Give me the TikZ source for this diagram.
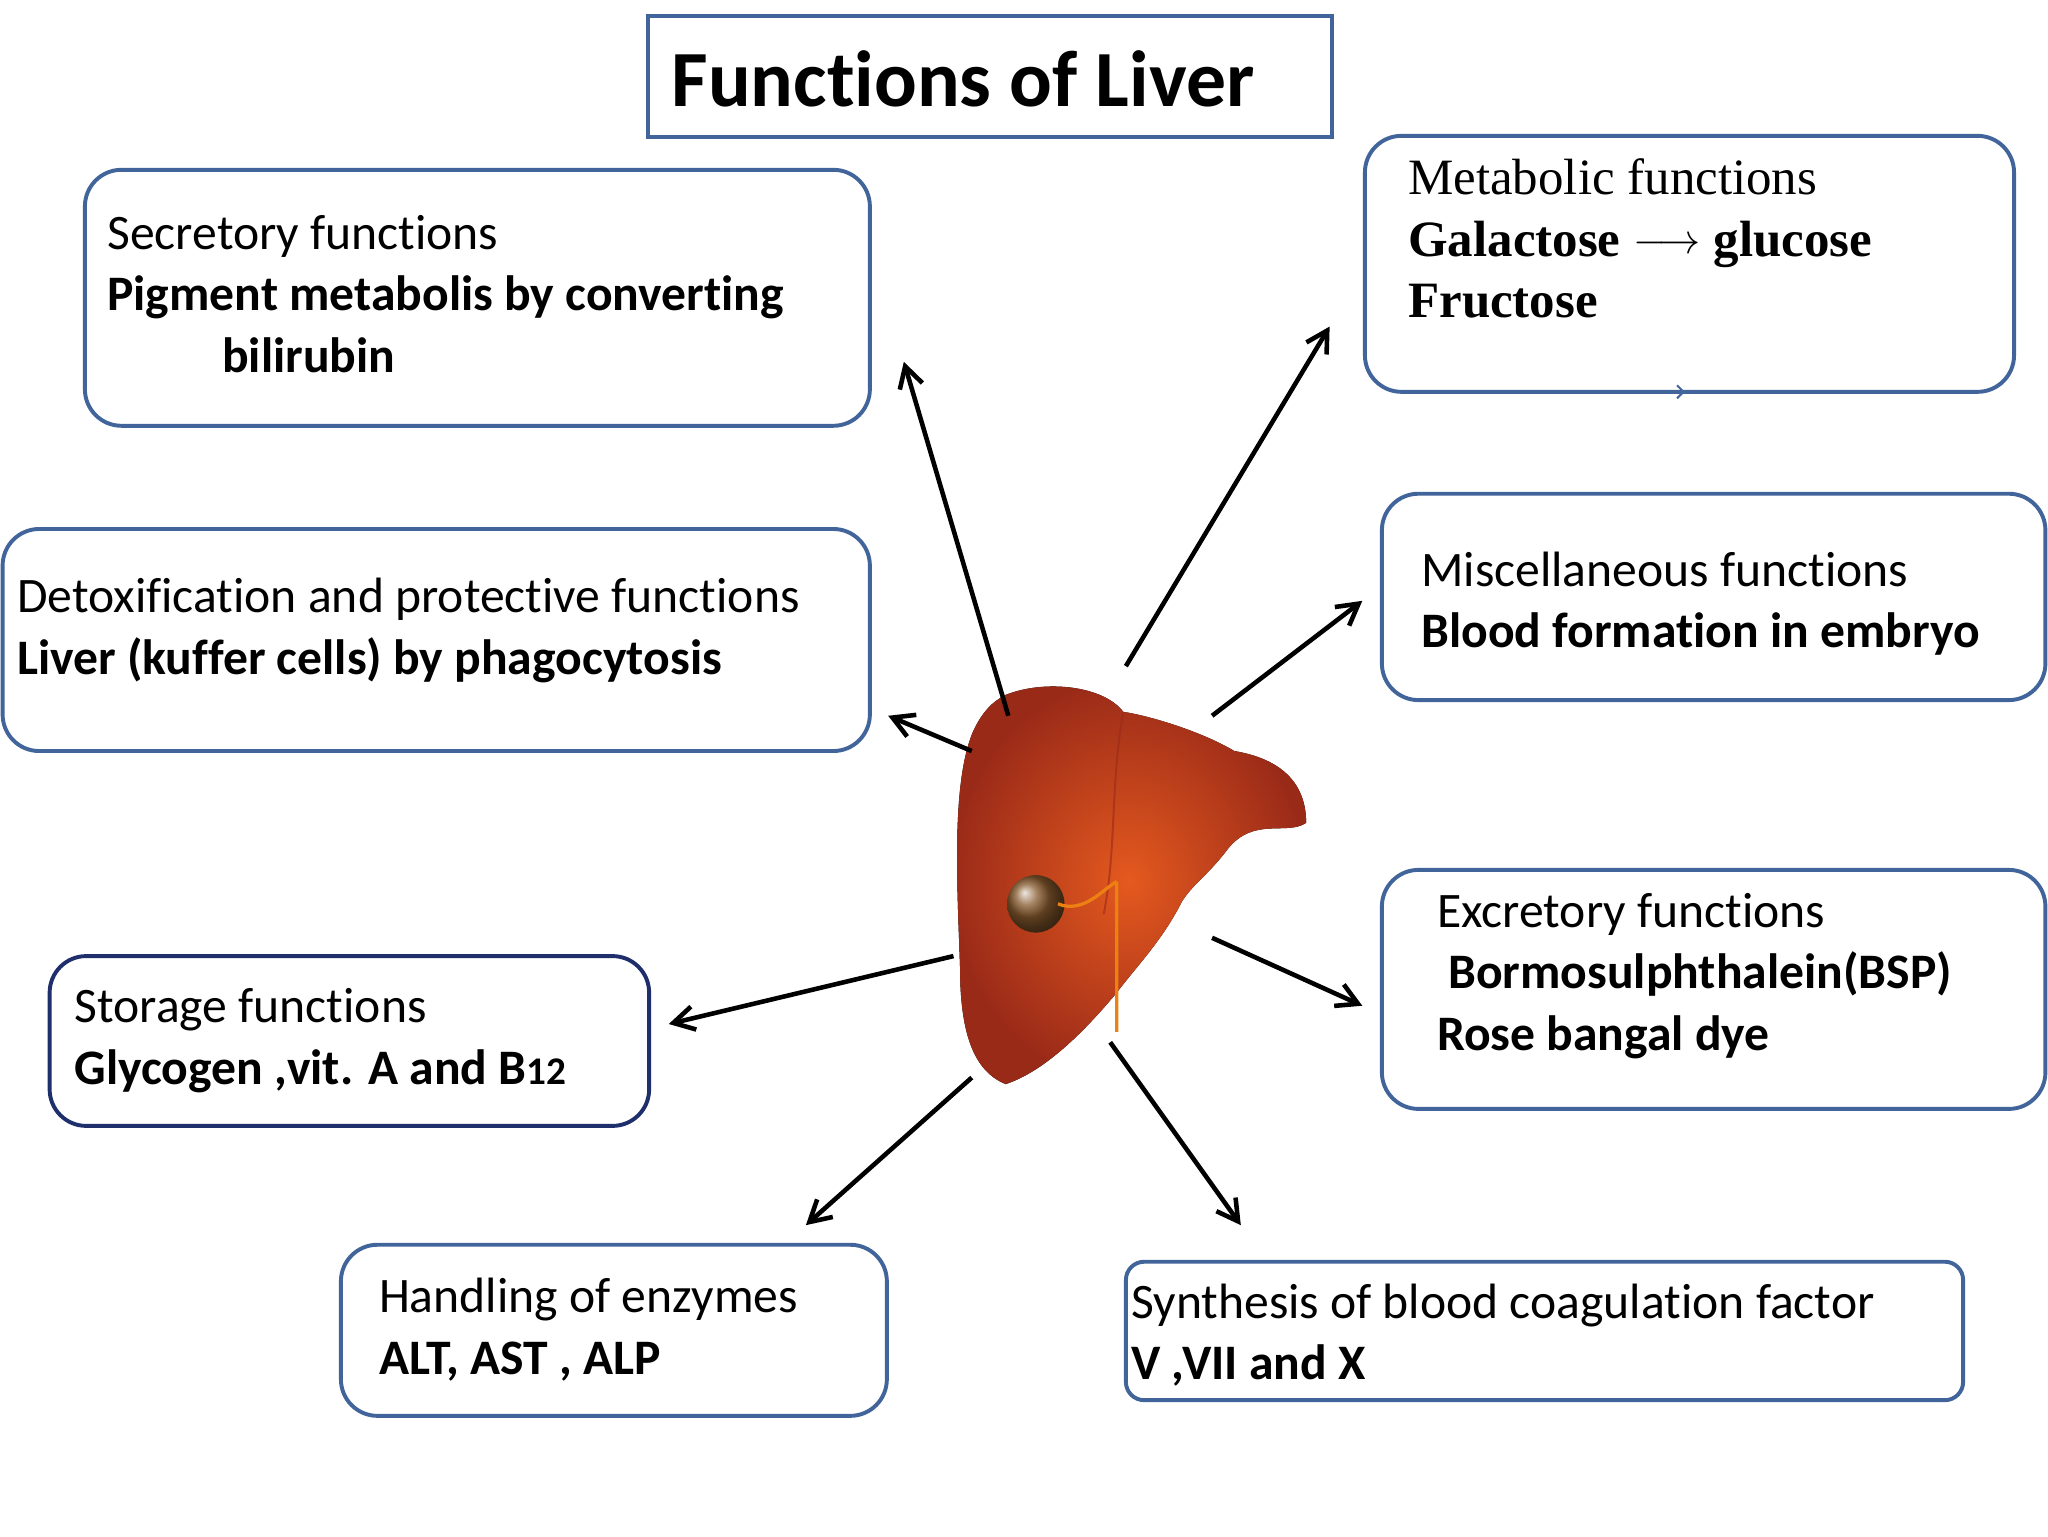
\documentclass[tikz,border=0pt]{standalone}
\usepackage{fontspec}
\setmainfont{Carlito}[Ligatures=NoCommon]
\newfontfamily\serifx{Liberation Serif}
\begin{document}
\begin{tikzpicture}[x=1pt,y=-1pt,
 box/.style={draw=boxblue,line width=3pt,rounded corners=28pt},
 arr/.style={-{Straight Barb[length=16pt,width=18pt]},line width=3.5pt},
 txt/.style={anchor=west,align=left,inner sep=0pt,font=\fontsize{38}{47}\selectfont}]
\usetikzlibrary{arrows.meta}
\definecolor{boxblue}{HTML}{41659A}
\definecolor{navy}{HTML}{1F2F6B}
\definecolor{liv}{HTML}{D9492C}
\definecolor{livd}{HTML}{9A2A18}
\useasboundingbox (0,0) rectangle (1568,1176);
\fill[white] (0,0) rectangle (1568,1176);
% title
\draw[boxblue,line width=3pt] (496,12) rectangle (1020,105);
\node[anchor=west,inner sep=0pt,font=\fontsize{61}{64}\selectfont\bfseries] (title) at (514,60) {Functions of Liver};
% boxes
\draw[box] (65,130) rectangle (666,326);
\draw[box] (2,405) rectangle (666,575);
\draw[box,draw=navy] (38,732) rectangle (497,862);
\draw[box] (261,953) rectangle (679,1084);
\draw[box] (1045,104) rectangle (1542,300);
\draw[box] (1058,378) rectangle (1566,536);
\draw[box] (1058,666) rectangle (1566,849);
\draw[box,rounded corners=14pt] (862,966) rectangle (1503,1072);
% texts
\node[txt,anchor=north west] (sec) at (82,158) {\strut Secretory functions\\\textbf{Pigment metabolis by converting}\\\hspace{88pt}\textbf{bilirubin}};
\node[txt,anchor=north west] (det) at (13,436) {\strut Detoxification and protective functions\\\textbf{Liver (kuffer cells) by phagocytosis}};
\node[txt,anchor=north west] (sto) at (57,750) {\strut Storage functions\\\textbf{Glycogen ,vit. A and B{\fontsize{30}{30}\selectfont12}}};
\node[txt,anchor=north west] (han) at (290,972) {\strut Handling of enzymes\\\textbf{ALT, AST , ALP}};
\node[txt,anchor=north west,font=\fontsize{39}{47}\selectfont\serifx] (met) at (1078,116) {\strut Metabolic functions\\\textbf{Galactose} \raisebox{2pt}{\resizebox{52pt}{!}{$\longrightarrow$}} \textbf{glucose}\\\textbf{Fructose}};
\node[txt,anchor=north west] (mis) at (1088,416) {\strut Miscellaneous functions\\\textbf{Blood formation in embryo}};
\node[txt,anchor=north west] (exc) at (1100,677) {\strut Excretory functions\\\ \textbf{Bormosulphthalein(BSP)}\\\textbf{Rose bangal dye}};
\node[txt,anchor=north west] (syn) at (866,976) {\strut Synthesis of blood coagulation factor\\\textbf{V ,VII and X}};
\draw[boxblue,line width=1.5pt,-{Straight Barb[length=5pt]}] (1276,300) -- (1290,300);
% liver
\fill[shading=radial,inner color=liv!70!orange,outer color=livd]
 (770,532) .. controls (800,520) and (845,525) .. (860,545)
 .. controls (880,548) and (920,560) .. (945,575)
 .. controls (975,580) and (1000,595) .. (1000,630)
 .. controls (985,640) and (960,625) .. (940,650)
 .. controls (925,670) and (915,675) .. (905,690)
 .. controls (890,720) and (870,740) .. (855,760)
 .. controls (830,790) and (800,820) .. (770,830)
 .. controls (745,820) and (735,790) .. (735,740)
 .. controls (733,680) and (728,600) .. (745,560)
 .. controls (752,545) and (760,537) .. (770,532) -- cycle;
\draw[livd,line width=1.5pt,opacity=.6] (860,545) .. controls (850,600) and (855,650) .. (845,700);
\shade[ball color=brown!70!black] (793,692) circle (22pt);
\draw[orange!70!brown,line width=2.5pt] (810,692) .. controls (830,700) and (845,680) .. (855,675) (855,675) -- (855,790);
% arrows
\coordinate (a1) at (772,548); \coordinate (a2) at (862,510); \coordinate (a3) at (928,548);
\coordinate (a4) at (744,575); \coordinate (a5) at (730,732); \coordinate (a6) at (928,718);
\coordinate (a7) at (744,825); \coordinate (a8) at (850,798);
\coordinate (b1) at (692,277); \coordinate (b2) at (1018,250); \coordinate (b3) at (1043,460);
\coordinate (b4) at (680,548); \coordinate (b5) at (512,784); \coordinate (b6) at (1043,770);
\coordinate (b7) at (617,938); \coordinate (b8) at (950,938);
\foreach \i in {1,...,8} \draw[arr] (a\i) -- (b\i);
\end{tikzpicture}
\end{document}
